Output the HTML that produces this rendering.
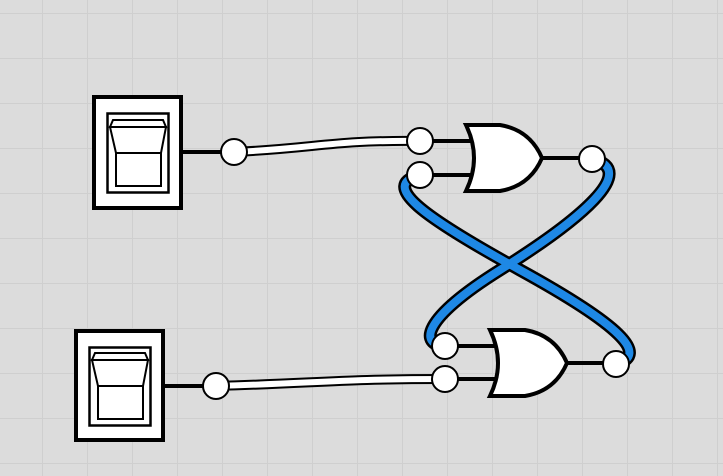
<!DOCTYPE html>
<html><head><style>html,body{margin:0;padding:0;background:#dcdcdc;}svg{display:block}</style></head><body>
<svg width="723" height="476" viewBox="0 0 723 476" xmlns="http://www.w3.org/2000/svg">
<defs><pattern id="g" x="-3" y="13" width="45" height="45" patternUnits="userSpaceOnUse"><path d="M0 0H45M0 0V45" stroke="#cfcfcf" stroke-width="2" fill="none"/></pattern></defs>
<rect width="723" height="476" fill="#dcdcdc"/>
<rect width="723" height="476" fill="url(#g)"/>
<!-- blue wires -->
<g fill="none" stroke-linecap="round">
<path d="M592,159 C640,170 580,220 500,270 C420,320 420,345 445,346" stroke="#000" stroke-width="13"/>
<path d="M420,175 C380,185 420,215 520,270 C620,325 650,355 616,364" stroke="#000" stroke-width="13"/>
<path d="M592,159 C640,170 580,220 500,270 C420,320 420,345 445,346" stroke="#1e88e5" stroke-width="8"/>
<path d="M420,175 C380,185 420,215 520,270 C620,325 650,355 616,364" stroke="#1e88e5" stroke-width="8"/>
<!-- white wires -->
<path d="M234,152 C320,148 330,140 420,141" stroke="#000" stroke-width="10"/>
<path d="M234,152 C320,148 330,140 420,141" stroke="#fff" stroke-width="6"/>
<path d="M216,386 C320,383 340,379 445,379" stroke="#000" stroke-width="10"/>
<path d="M216,386 C320,383 340,379 445,379" stroke="#fff" stroke-width="6"/>
</g>
<!-- stubs -->
<g stroke="#000" stroke-width="4">
<line x1="181" y1="152" x2="234" y2="152"/><line x1="163" y1="386" x2="216" y2="386"/>
<line x1="420" y1="141" x2="475" y2="141"/><line x1="420" y1="175" x2="475" y2="175"/>
<line x1="540" y1="158" x2="592" y2="158"/>
<line x1="445" y1="346" x2="500" y2="346"/><line x1="445" y1="379" x2="500" y2="379"/>
<line x1="565" y1="363" x2="616" y2="363"/>
</g>
<!-- gates -->
<g fill="#fff" stroke="#000" stroke-width="4" stroke-linejoin="miter">
<path d="M466,125 L500,125 Q530,130 542,158 Q530,186 500,191 L466,191 Q482,158 466,125 Z"/>
<path d="M490,330 L525,330 Q555,335 567,363 Q555,391 525,396 L490,396 Q506,363 490,330 Z"/>
</g>
<!-- switches -->
<g fill="#fff" stroke="#000">
<rect x="94" y="97" width="87" height="111" stroke-width="4"/>
<rect x="107.5" y="113.5" width="61" height="79" stroke-width="2.5"/>
<path d="M110,127 L113,120 L163,120 L166,127 Z" stroke-width="2"/>
<path d="M110,127 L166,127 L161,153 L116,153 Z" stroke-width="2"/>
<rect x="116" y="153" width="45" height="33" stroke-width="2"/>
<rect x="76" y="331" width="87" height="109" stroke-width="4"/>
<rect x="89.5" y="347.5" width="61" height="78" stroke-width="2.5"/>
<path d="M92,360 L95,353 L145,353 L148,360 Z" stroke-width="2"/>
<path d="M92,360 L148,360 L143,386 L98,386 Z" stroke-width="2"/>
<rect x="98" y="386" width="45" height="33" stroke-width="2"/>
</g>
<!-- pins -->
<g fill="#fff" stroke="#000" stroke-width="2">
<circle cx="234" cy="152" r="13"/><circle cx="216" cy="386" r="13"/>
<circle cx="420" cy="141" r="13"/><circle cx="420" cy="175" r="13"/>
<circle cx="592" cy="159" r="13"/>
<circle cx="445" cy="346" r="13"/><circle cx="445" cy="379" r="13"/>
<circle cx="616" cy="364" r="13"/>
</g>
</svg>
</body></html>
